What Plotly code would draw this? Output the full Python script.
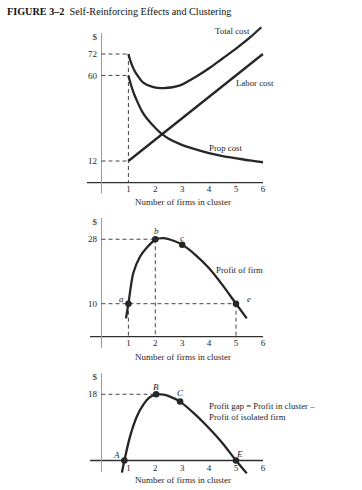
import plotly.graph_objects as go

# ---------------- data ----------------
firms_ticks = [1, 2, 3, 4, 5, 6]

# Panel 1: costs
total_x = [1, 1.1, 1.2, 1.31, 1.55, 1.93, 2.3, 2.92, 3.54, 4.0, 4.5, 5.0, 5.5, 5.94]
total_y = [72, 67, 63.5, 60.6, 56, 53.4, 52.9, 54.4, 59.5, 64, 69.5, 75, 81, 87]
prop_x = [1, 1.1, 1.2, 1.31, 1.5, 1.68, 2.05, 2.24, 2.5, 2.92, 3.5, 4.03, 4.5, 5.02, 5.5, 6.0]
prop_y = [60, 54.5, 50, 46, 40, 36, 29.8, 27.2, 24.5, 21.5, 18.5, 16.3, 14.8, 13.5, 12.3, 11.3]
labor_x = [1, 6]
labor_y = [12, 72]
cost_ticks = [12, 60, 72]

# Panel 2: profit of firm
profit_x = [0.91, 1.0, 1.18, 1.43, 1.68, 2.0, 2.3, 2.6, 3.0, 3.5, 4.0, 4.5, 5.0, 5.4]
profit_y = [5.9, 10, 18.5, 23.1, 25.6, 27.9, 28.3, 27.8, 26.5, 23.6, 19.9, 15.2, 10, 5.9]
profit_pts_x = [1, 2, 3, 5]
profit_pts_y = [10, 28, 26.5, 10]
profit_pts_lbl = ["a", "b", "c", "e"]
profit_ticks = [10, 28]

# Panel 3: profit gap
gap_x = [0.76, 0.85, 1.06, 1.31, 1.55, 1.8, 2.03, 2.3, 2.5, 2.92, 3.5, 4.0, 4.5, 5.0, 5.4]
gap_y = [-3.3, 0, 6.5, 11.9, 15.1, 17.2, 18.0, 17.9, 17.5, 16.0, 12.4, 8.75, 4.7, 0, -3.5]
gap_pts_x = [0.85, 2.03, 2.92, 5.0]
gap_pts_y = [0, 18, 16, 0]
gap_pts_lbl = ["A", "B", "C", "E"]
gap_ticks = [18]

# ---------------- layout helpers ----------------
W, H = 362, 490
X0PX, XS = 101.5, 26.9          # pixel of x=0, pixels per firm


def xd(px):
    return (px - X0PX) / XS


def py2paper(py):
    return 1 - py / H


FONT = "Liberation Serif, Times New Roman, serif"
INK = "#262626"
CURVE_W = 2.3

panels = [
    # y0px (pixel of y=0), pixels per unit, domain top px, domain bottom px
    dict(y0=182.4, s=1.783, top=18, bot=198),
    dict(y0=339.5, s=3.58, top=210, bot=352),
    dict(y0=460.5, s=3.68, top=364, bot=478),
]

fig = go.Figure()
layout = dict(width=W, height=H, margin=dict(l=0, r=0, t=0, b=0),
              paper_bgcolor="white", plot_bgcolor="white", showlegend=False,
              font=dict(family=FONT, color=INK, size=9))

annotations = []

tick_label_py = [190.5, 344.0, 469.0]
title_py = [202.5, 357.0, 480.0]
dollar_py = [36.7, 222.3, 376.7]
ytick_sets = [cost_ticks, profit_ticks, gap_ticks]
xaxis_line_py = [182.6, 336.6, 460.5]
yaxis_span_py = [(33.3, 193.5), (218.0, 348.0), (373.3, 471.7)]
xaxis_span_px = [(87, 263), (90, 263), (90, 263)]

for i, p in enumerate(panels):
    k = "" if i == 0 else str(i + 1)
    xa, ya = "x" + k, "y" + k

    def yd(py, p=p):
        return (p["y0"] - py) / p["s"]

    yr = [yd(p["bot"]), yd(p["top"])]
    xr = [xd(80), xd(292)]
    dollar_val = yd(dollar_py[i])
    layout["xaxis" + k] = dict(
        domain=[80 / W, 292 / W], range=xr, anchor="free",
        position=py2paper(tick_label_py[i] - 8.5),
        showgrid=False, zeroline=False, showline=False, ticks="",
        tickvals=firms_ticks, ticktext=[str(v) for v in firms_ticks],
        tickfont=dict(family=FONT, size=9, color=INK), fixedrange=True)
    layout["yaxis" + k] = dict(
        domain=[py2paper(p["bot"]), py2paper(p["top"])], range=yr,
        anchor="free", position=97 / W,
        showgrid=False, zeroline=False, showline=False, ticks="",
        tickvals=ytick_sets[i] + [dollar_val],
        ticktext=[str(v) for v in ytick_sets[i]] + ["$"],
        tickfont=dict(family=FONT, size=9, color=INK), fixedrange=True)

    # axis lines (drawn in data coordinates)
    ax_y = yd(xaxis_line_py[i])
    fig.add_trace(go.Scatter(x=[xd(xaxis_span_px[i][0]), xd(xaxis_span_px[i][1])],
                             y=[ax_y, ax_y], mode="lines", xaxis=xa, yaxis=ya,
                             line=dict(color="#303030", width=1.3), hoverinfo="skip"))
    fig.add_trace(go.Scatter(x=[0, 0], y=[yd(yaxis_span_py[i][0]), yd(yaxis_span_py[i][1])],
                             mode="lines", xaxis=xa, yaxis=ya,
                             line=dict(color="#9a9a9a", width=1), hoverinfo="skip"))

    annotations.append(dict(text="Number of firms in cluster", xref="paper", yref="paper",
                            x=182.5 / W, y=py2paper(title_py[i]), showarrow=False,
                            xanchor="center", yanchor="middle",
                            font=dict(family=FONT, size=9, color=INK)))
    panels[i]["ax_y"] = ax_y
    panels[i]["xa"], panels[i]["ya"] = xa, ya

DASH = dict(color="#444444", width=1, dash="4px,3px")


def dashed(xs, ys, xa, ya):
    fig.add_trace(go.Scatter(x=xs, y=ys, mode="lines", xaxis=xa, yaxis=ya,
                             line=DASH, hoverinfo="skip"))


def curve(xs, ys, xa, ya, shape="spline"):
    fig.add_trace(go.Scatter(x=xs, y=ys, mode="lines", xaxis=xa, yaxis=ya,
                             line=dict(color=INK, width=CURVE_W, shape=shape,
                                       smoothing=0.8), hoverinfo="skip"))


# ---------------- Panel 1 ----------------
p = panels[0]
for v in cost_ticks:
    dashed([0, 1], [v, v], p["xa"], p["ya"])
dashed([1, 1], [cost_ticks[-1], p["ax_y"]], p["xa"], p["ya"])
curve(total_x, total_y, p["xa"], p["ya"])
curve(prop_x, prop_y, p["xa"], p["ya"])
curve(labor_x, labor_y, p["xa"], p["ya"], shape="linear")
for txt, cx, cy in [("Total cost", 232.5, 30.5), ("Labor cost", 254.5, 82.5), ("Prop cost", 226, 148)]:
    annotations.append(dict(text=txt, xref="x", yref="y", x=xd(cx), y=(p["y0"] - cy) / p["s"],
                            showarrow=False, font=dict(family=FONT, size=8.8, color=INK)))

# ---------------- Panel 2 ----------------
p = panels[1]
dashed([0, profit_pts_x[1]], [profit_pts_y[1]] * 2, p["xa"], p["ya"])
dashed([0, profit_pts_x[3]], [profit_pts_y[0]] * 2, p["xa"], p["ya"])
for j in (0, 1, 3):
    dashed([profit_pts_x[j]] * 2, [profit_pts_y[j], p["ax_y"]], p["xa"], p["ya"])
curve(profit_x, profit_y, p["xa"], p["ya"])
fig.add_trace(go.Scatter(x=profit_pts_x, y=profit_pts_y, mode="markers", xaxis=p["xa"], yaxis=p["ya"],
                         marker=dict(color=INK, size=6.5), hoverinfo="skip"))
lbl_pos2 = [(121.5, 299.0), (156.5, 230.5), (182.0, 238.0), (248.5, 299.0)]
for t, (cx, cy) in zip(profit_pts_lbl, lbl_pos2):
    annotations.append(dict(text="<i>" + t + "</i>", xref="x2", yref="y2", x=xd(cx),
                            y=(p["y0"] - cy) / p["s"], showarrow=False,
                            font=dict(family=FONT, size=9, color=INK)))
annotations.append(dict(text="Profit of firm", xref="x2", yref="y2", x=xd(239.5),
                        y=(p["y0"] - 270) / p["s"], showarrow=False,
                        font=dict(family=FONT, size=8.8, color=INK)))

# ---------------- Panel 3 ----------------
p = panels[2]
dashed([0, gap_pts_x[1]], [gap_pts_y[1]] * 2, p["xa"], p["ya"])
curve(gap_x, gap_y, p["xa"], p["ya"])
fig.add_trace(go.Scatter(x=gap_pts_x, y=gap_pts_y, mode="markers", xaxis=p["xa"], yaxis=p["ya"],
                         marker=dict(color=INK, size=6.5), hoverinfo="skip"))
lbl_pos3 = [(116.7, 455.0), (155.7, 386.7), (180.0, 393.3), (239.3, 454.3)]
for t, (cx, cy) in zip(gap_pts_lbl, lbl_pos3):
    annotations.append(dict(text="<i>" + t + "</i>", xref="x3", yref="y3", x=xd(cx),
                            y=(p["y0"] - cy) / p["s"], showarrow=False,
                            font=dict(family=FONT, size=9, color=INK)))
for txt, cy in [("Profit gap = Profit in cluster \u2013", 406), ("Profit of isolated firm", 417)]:
    annotations.append(dict(text=txt, xref="x3", yref="y3", x=xd(206.5),
                            y=(p["y0"] - cy) / p["s"], showarrow=False, xanchor="left",
                            font=dict(family=FONT, size=8.8, color=INK)))

# ---------------- Figure title ----------------
annotations.append(dict(text="<b>FIGURE 3\u20132</b>&nbsp;&nbsp;Self-Reinforcing Effects and Clustering",
                        xref="paper", yref="paper", x=5 / W, y=py2paper(11), showarrow=False,
                        xanchor="left", yanchor="middle",
                        font=dict(family=FONT, size=10.2, color="#111111")))

layout["annotations"] = annotations
fig.update_layout(**layout)
fig.write_html("out.html", config={"displayModeBar": False},
               post_script="document.body.style.margin='0';document.body.style.padding='0';")
